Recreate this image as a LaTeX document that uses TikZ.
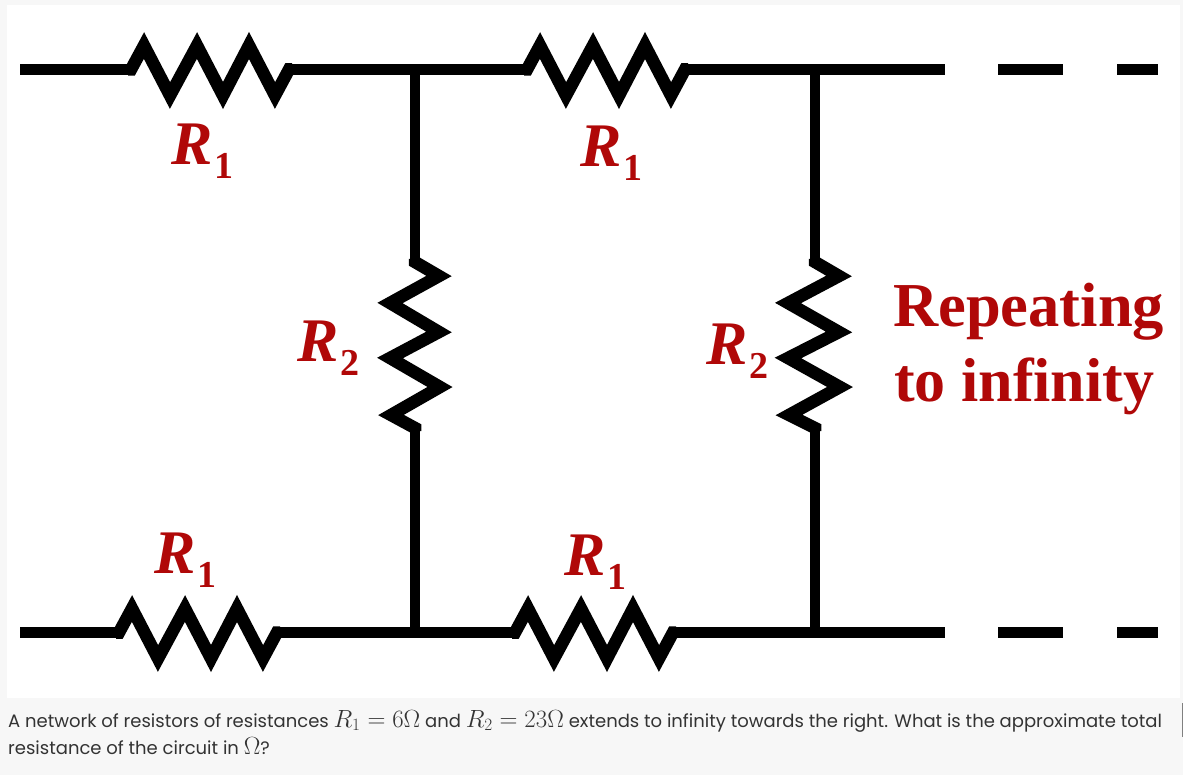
\documentclass[tikz,border=0pt]{standalone}
\usepackage{fontspec}
\setmainfont{Liberation Serif}
\newfontfamily\capfont{Poppins}
\definecolor{labred}{HTML}{B00808}
\definecolor{capgray}{HTML}{333333}
\definecolor{pagegray}{HTML}{F7F7F7}
\newcommand{\lab}[1]{\fontsize{62}{62}\selectfont\bfseries\itshape R\kern1.5pt\raisebox{-14pt}{\fontsize{38}{38}\selectfont\upshape #1}}
\newcommand{\mth}[1]{{\fontsize{24}{24}\selectfont$#1$}}
\tikzset{
  wire/.style={line width=10.2pt,line join=miter,line cap=butt,black},
  zig/.style={line width=12.5pt,line join=miter,line cap=butt,black},
  hres/.style={to path={-- ++(13,-24) -- ++(26,50) -- ++(27,-50) -- ++(26,50) -- ++(26,-50) -- ++(26,50) -- (\tikztotarget)}},
  vres/.style={to path={-- ++(24,14) -- ++(-49,27) -- ++(49,29) -- ++(-49,26) -- ++(50,29) -- ++(-49,28) -- (\tikztotarget)}},
  vresb/.style={to path={-- ++(24,14) -- ++(-51,27) -- ++(51,29) -- ++(-51,26) -- ++(52,29) -- ++(-51,28) -- (\tikztotarget)}},
  lbl/.style={inner sep=0pt,anchor=base west,text=labred},
  captxt/.style={inner sep=0pt,anchor=base west,text=capgray,font=\capfont\fontsize{18}{18}\selectfont},
  rep/.style={inner sep=0pt,anchor=base west,text=labred,font=\fontsize{62.5}{62.5}\selectfont\bfseries},
  repb/.style={inner sep=0pt,anchor=base west,text=labred,font=\fontsize{62}{62}\selectfont\bfseries}
}
\begin{document}
\begin{tikzpicture}[x=1pt,y=-1pt]
\useasboundingbox (0,0) rectangle (1183,775);
\fill[pagegray] (0,0) rectangle (1183,775);
\fill[white] (7,5) rectangle (1180,698);
\draw[gray,line width=1pt] (1182,703) -- (1182,737);
% junctions and terminals
\coordinate (tl) at (20,69.5);
\coordinate (t1a) at (131,69.5);
\coordinate (t1b) at (289,69.5);
\coordinate (tj1) at (415,69.5);
\coordinate (t2a) at (527,69.5);
\coordinate (t2b) at (685,69.5);
\coordinate (tj2) at (815,69.5);
\coordinate (tr) at (945,69.5);
\coordinate (bl) at (20,632.5);
\coordinate (b1a) at (119,632.5);
\coordinate (b1b) at (277,632.5);
\coordinate (bj1) at (415,632.5);
\coordinate (b2a) at (515,632.5);
\coordinate (b2b) at (673,632.5);
\coordinate (bj2) at (815,632.5);
\coordinate (br) at (945,632.5);
\coordinate (v1a) at (415,262);
\coordinate (v1b) at (415,428);
\coordinate (v2a) at (815,262);
\coordinate (v2b) at (815,428);
% wires
\draw[wire] (tl) -- (t1a) (t1b) -- (t2a) (t2b) -- (tr);
\draw[wire] (bl) -- (b1a) (b1b) -- (b2a) (b2b) -- (br);
\draw[wire] ([yshift=5pt]tj1) -- (v1a) (v1b) -- ([yshift=-5pt]bj1);
\draw[wire] ([yshift=5pt]tj2) -- (v2a) (v2b) -- ([yshift=-5pt]bj2);
% resistors
\draw[zig] ([xshift=-3pt]t1a) -- (t1a) to[hres] (t1b) -- ([xshift=3pt]t1b);
\draw[zig] ([xshift=-3pt]t2a) -- (t2a) to[hres] (t2b) -- ([xshift=3pt]t2b);
\draw[zig] ([xshift=-3pt]b1a) -- (b1a) to[hres] (b1b) -- ([xshift=3pt]b1b);
\draw[zig] ([xshift=-3pt]b2a) -- (b2a) to[hres] (b2b) -- ([xshift=3pt]b2b);
\draw[zig] ([yshift=3pt]v1a) -- (v1a) to[vres] (v1b) -- ([yshift=-3pt]v1b);
\draw[zig] ([yshift=3pt]v2a) -- (v2a) to[vresb] (v2b) -- ([yshift=-3pt]v2b);
% dashes
\coordinate (d1a) at (998,69.5); \coordinate (d1b) at (1063,69.5);
\coordinate (d2a) at (1117,69.5); \coordinate (d2b) at (1158,69.5);
\coordinate (d3a) at (998,632.5); \coordinate (d3b) at (1063,632.5);
\coordinate (d4a) at (1117,632.5); \coordinate (d4b) at (1158,632.5);
\draw[wire] (d1a) -- (d1b) (d2a) -- (d2b) (d3a) -- (d3b) (d4a) -- (d4b);
% labels
\node[lbl] (la) at (171,165) {\lab{1}};
\node[lbl] (lb) at (580,167) {\lab{1}};
\node[lbl] (lc) at (154,573) {\lab{1}};
\node[lbl] (ld) at (564,575) {\lab{1}};
\node[lbl] (le) at (297,362) {\lab{2}};
\node[lbl] (lf) at (706,364) {\lab{2}};
\node[rep] (r1) at (893,327) {Repeating};
\node[repb] (r2) at (894,402) {to infinity};
% caption
\node[captxt] (c1) at (8,727) {A network of resistors of resistances \mth{R_1=6\Omega} and \mth{R_2=23\Omega} extends to infinity towards the right. What is the approximate total};
\node[captxt] (c2) at (8,754) {resistance of the circuit in \mth{\Omega}?};
\end{tikzpicture}
\end{document}
